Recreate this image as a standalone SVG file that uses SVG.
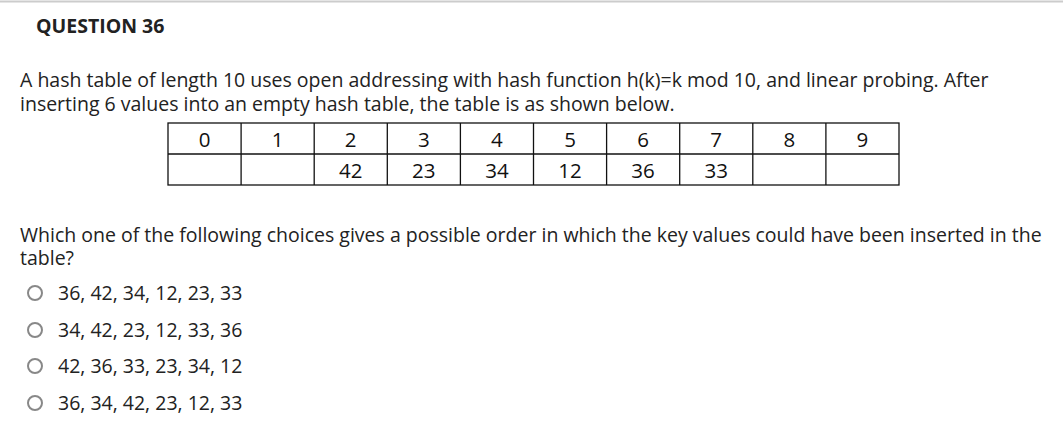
<svg xmlns="http://www.w3.org/2000/svg" width="1063" height="432" viewBox="0 0 1063 432">
<style>
text{font-family:"Open Sans","Noto Sans",sans-serif;fill:#222;font-size:19.5px}
.t{text-anchor:middle;font-size:20.5px;fill:#111}
.c{fill:#fff;stroke:#111;stroke-width:1.3}
.r{fill:#fff;stroke:#888;stroke-width:2}
</style>
<rect width="1063" height="432" fill="#fff"/>
<line x1="0" y1="1.5" x2="1063" y2="1.5" stroke="#ccc" stroke-width="2"/>
<text x="36" y="33" font-weight="bold" font-size="23" fill="#222">QUESTION 36</text>
<text x="20" y="87">A hash table of length 10 uses open addressing with hash function h(k)=k mod 10, and linear probing. After</text>
<text x="20" y="111">inserting 6 values into an empty hash table, the table is as shown below.</text>
<g id="table">
<rect class="c" x="168" y="123" width="731" height="62"/>
<line x1="168" y1="154" x2="899" y2="154" stroke="#111" stroke-width="1.3"/>
<g stroke="#111" stroke-width="1.3">
<line x1="241.1" y1="123" x2="241.1" y2="185"/><line x1="314.2" y1="123" x2="314.2" y2="185"/>
<line x1="387.3" y1="123" x2="387.3" y2="185"/><line x1="460.4" y1="123" x2="460.4" y2="185"/>
<line x1="533.5" y1="123" x2="533.5" y2="185"/><line x1="606.6" y1="123" x2="606.6" y2="185"/>
<line x1="679.7" y1="123" x2="679.7" y2="185"/><line x1="752.8" y1="123" x2="752.8" y2="185"/>
<line x1="825.9" y1="123" x2="825.9" y2="185"/>
</g>
<text class="t" x="204.5" y="147">0</text><text class="t" x="277.6" y="147">1</text>
<text class="t" x="350.7" y="147">2</text><text class="t" x="423.8" y="147">3</text>
<text class="t" x="496.9" y="147">4</text><text class="t" x="570" y="147">5</text>
<text class="t" x="643.1" y="147">6</text><text class="t" x="716.2" y="147">7</text>
<text class="t" x="789.3" y="147">8</text><text class="t" x="862.4" y="147">9</text>
<text class="t" x="350.7" y="178">42</text><text class="t" x="423.8" y="178">23</text>
<text class="t" x="496.9" y="178">34</text><text class="t" x="570" y="178">12</text>
<text class="t" x="643.1" y="178">36</text><text class="t" x="716.2" y="178">33</text>
</g>
<text x="20" y="242">Which one of the following choices gives a possible order in which the key values could have been inserted in the</text>
<text x="20" y="265">table?</text>
<g id="opt1"><circle class="r" cx="35" cy="293" r="7"/><text x="58" y="300">36, 42, 34, 12, 23, 33</text></g>
<g id="opt2"><circle class="r" cx="35" cy="330" r="7"/><text x="58" y="337">34, 42, 23, 12, 33, 36</text></g>
<g id="opt3"><circle class="r" cx="35" cy="366" r="7"/><text x="58" y="373">42, 36, 33, 23, 34, 12</text></g>
<g id="opt4"><circle class="r" cx="35" cy="403" r="7"/><text x="58" y="410">36, 34, 42, 23, 12, 33</text></g>
</svg>
